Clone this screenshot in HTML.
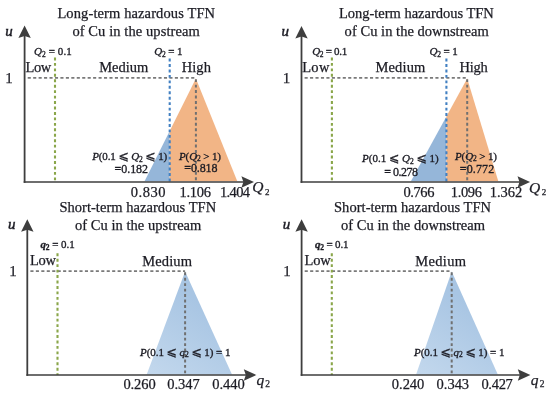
<!DOCTYPE html>
<html><head><meta charset="utf-8"><title>Hazardous TFN of Cu</title>
<style>
html,body{margin:0;padding:0;background:#fff;}
svg{display:block;}
text{font-family:'Liberation Serif', 'Times New Roman', serif;fill:#1c1c24;stroke:#1c1c24;stroke-width:0.25px;}
</style></head>
<body>
<svg width="550" height="396" viewBox="0 0 550 396">
<defs>
<linearGradient id="g3" x1="0" y1="1" x2="0.45" y2="0.2">
<stop offset="0" stop-color="#c3d8ed"/><stop offset="1" stop-color="#a8c5e3"/>
</linearGradient>
<linearGradient id="g4" x1="0" y1="1" x2="0.45" y2="0.2">
<stop offset="0" stop-color="#c3d8ed"/><stop offset="1" stop-color="#a8c5e3"/>
</linearGradient>
</defs>
<rect width="550" height="396" fill="#fff"/>
<polygon points="144.6,181.3 169.7,130.95321637426903 169.7,181.3" fill="#95b6d9"/>
<polygon points="169.7,130.95321637426903 195.9,78.4 237.3,181.3 169.7,181.3" fill="#f2b586"/>
<line x1="27.700000000000003" y1="77.9" x2="195.9" y2="77.9" stroke="#7a7a7a" stroke-width="1.6" stroke-dasharray="3.1 2.35"/>
<line x1="55.0" y1="57.5" x2="55.0" y2="182" stroke="#8aa64a" stroke-width="2.1" stroke-dasharray="2.9 2.55"/>
<line x1="169.7" y1="58.6" x2="169.7" y2="182" stroke="#4280c2" stroke-width="2.1" stroke-dasharray="2.9 2.55"/>
<line x1="195.9" y1="79.2" x2="195.9" y2="182" stroke="#707070" stroke-width="2" stroke-dasharray="2.9 2.55"/>
<line x1="24.6" y1="182.85" x2="24.6" y2="34.6" stroke="#3e3e3e" stroke-width="1.8"/>
<path d="M24.6,25.6 L30.8,38.1 L24.6,36.1 L18.400000000000002,38.1 Z" fill="#3e3e3e"/>
<line x1="23.700000000000003" y1="182" x2="245.0" y2="182" stroke="#3e3e3e" stroke-width="1.6"/>
<path d="M254.0,182 L241.4,176.2 L243.4,182 L241.4,187.8 Z" fill="#3e3e3e"/>
<polygon points="410.9,181.3 446.4,116.4163410301954 446.4,181.3" fill="#95b6d9"/>
<polygon points="446.4,116.4163410301954 467.2,78.4 498.3,181.3 446.4,181.3" fill="#f2b586"/>
<line x1="304.6" y1="77.9" x2="467.2" y2="77.9" stroke="#7a7a7a" stroke-width="1.6" stroke-dasharray="3.1 2.35"/>
<line x1="331.9" y1="57.5" x2="331.9" y2="182" stroke="#8aa64a" stroke-width="2.1" stroke-dasharray="2.9 2.55"/>
<line x1="446.4" y1="58.6" x2="446.4" y2="182" stroke="#4280c2" stroke-width="2.1" stroke-dasharray="2.9 2.55"/>
<line x1="467.2" y1="79.2" x2="467.2" y2="182" stroke="#707070" stroke-width="2" stroke-dasharray="2.9 2.55"/>
<line x1="301.5" y1="182.85" x2="301.5" y2="34.900000000000006" stroke="#3e3e3e" stroke-width="1.8"/>
<path d="M301.5,25.900000000000002 L307.7,38.400000000000006 L301.5,36.400000000000006 L295.3,38.400000000000006 Z" fill="#3e3e3e"/>
<line x1="300.6" y1="182" x2="521.1" y2="182" stroke="#3e3e3e" stroke-width="1.6"/>
<path d="M530.1,182 L517.5,176.2 L519.5,182 L517.5,187.8 Z" fill="#3e3e3e"/>
<polygon points="146.7,374.4 185.1,271.6 232.0,374.4" fill="url(#g3)"/>
<line x1="30.400000000000002" y1="271.1" x2="185.1" y2="271.1" stroke="#7a7a7a" stroke-width="1.6" stroke-dasharray="3.1 2.35"/>
<line x1="57.5" y1="253.3" x2="57.5" y2="375" stroke="#8aa64a" stroke-width="2.1" stroke-dasharray="2.9 2.55"/>
<line x1="185.1" y1="272.3" x2="185.1" y2="375" stroke="#707070" stroke-width="2" stroke-dasharray="2.9 2.55"/>
<line x1="27.3" y1="375.85" x2="27.3" y2="228.2" stroke="#3e3e3e" stroke-width="1.8"/>
<path d="M27.3,219.2 L33.5,231.7 L27.3,229.7 L21.1,231.7 Z" fill="#3e3e3e"/>
<line x1="26.400000000000002" y1="375" x2="247.40000000000003" y2="375" stroke="#3e3e3e" stroke-width="1.6"/>
<path d="M256.40000000000003,375 L243.80000000000004,369.2 L245.80000000000004,375 L243.80000000000004,380.8 Z" fill="#3e3e3e"/>
<polygon points="416.1,374.4 451.7,271.6 497.8,374.4" fill="url(#g4)"/>
<line x1="304.70000000000005" y1="271.1" x2="451.7" y2="271.1" stroke="#7a7a7a" stroke-width="1.6" stroke-dasharray="3.1 2.35"/>
<line x1="331.8" y1="253.3" x2="331.8" y2="375" stroke="#8aa64a" stroke-width="2.1" stroke-dasharray="2.9 2.55"/>
<line x1="451.7" y1="272.3" x2="451.7" y2="375" stroke="#707070" stroke-width="2" stroke-dasharray="2.9 2.55"/>
<line x1="301.6" y1="375.85" x2="301.6" y2="228.29999999999998" stroke="#3e3e3e" stroke-width="1.8"/>
<path d="M301.6,219.29999999999998 L307.8,231.79999999999998 L301.6,229.79999999999998 L295.40000000000003,231.79999999999998 Z" fill="#3e3e3e"/>
<line x1="300.70000000000005" y1="375" x2="521.4" y2="375" stroke="#3e3e3e" stroke-width="1.6"/>
<path d="M530.4,375 L517.8,369.2 L519.8,375 L517.8,380.8 Z" fill="#3e3e3e"/>
<text id="t0" x="57.40" y="18.1" font-size="14.5" textLength="157.67" lengthAdjust="spacing" >Long-term hazardous TFN</text>
<text id="t1" x="72.40" y="35.7" font-size="14.5" textLength="127.36" lengthAdjust="spacing" >of Cu in the upstream</text>
<text id="t2" x="5.20" y="35.6" font-size="15" font-style="italic" style="stroke-width:0.45px">u</text>
<text id="t3" x="5.30" y="82.6" font-size="15" >1</text>
<text id="t4" x="25.60" y="72" font-size="14.5" textLength="25.59" lengthAdjust="spacing" >Low</text>
<text id="t5" x="99.20" y="71.8" font-size="14.5" textLength="49.14" lengthAdjust="spacing" >Medium</text>
<text id="t6" x="181.80" y="71.8" font-size="14.5" textLength="29.10" lengthAdjust="spacing" >High</text>
<text id="t7" x="34.00" y="54.6" font-size="11" textLength="37.73" lengthAdjust="spacing" style="stroke-width:0.32px" ><tspan font-style="italic">Q</tspan><tspan font-size="7.5" dy="2">2</tspan><tspan dy="-2"> <tspan font-weight="bold">=</tspan> 0.1</tspan></text>
<text id="t8" x="154.20" y="54.6" font-size="11" textLength="28.38" lengthAdjust="spacing" style="stroke-width:0.32px" ><tspan font-style="italic">Q</tspan><tspan font-size="7.5" dy="2">2</tspan><tspan dy="-2"> <tspan font-weight="bold">=</tspan> 1</tspan></text>
<text id="t9" x="130.80" y="197.3" font-size="14.5" textLength="34.72" lengthAdjust="spacing" >0.830</text>
<text id="t10" x="179.60" y="197.3" font-size="14.5" textLength="31.42" lengthAdjust="spacing" >1.106</text>
<text id="t11" x="220.00" y="197.3" font-size="14.5" textLength="30.03" lengthAdjust="spacing" >1.404</text>
<text id="t12" x="252.20" y="192.2" font-size="15.5" textLength="17.40" lengthAdjust="spacing" ><tspan font-style="italic">Q</tspan><tspan font-size="9" dy="2.4">2</tspan></text>
<text id="t13" x="92.20" y="159.8" font-size="11" textLength="74.99" lengthAdjust="spacing" style="stroke-width:0.32px" ><tspan font-style="italic">P</tspan>(0.1 <tspan font-family="'DejaVu Sans', sans-serif" font-size="1.12em">&#x2A7D;</tspan> <tspan font-style="italic">Q</tspan><tspan font-size="7.5" dy="1.8">2</tspan><tspan dy="-1.8"> <tspan font-family="'DejaVu Sans', sans-serif" font-size="1.12em">&#x2A7D;</tspan> 1)</tspan></text>
<text id="t14" x="114.60" y="173.3" font-size="12" textLength="33.43" lengthAdjust="spacing" style="stroke-width:0.32px" ><tspan font-weight="bold">=</tspan>0.182</text>
<text id="t15" x="179.00" y="159.6" font-size="11" textLength="41.98" lengthAdjust="spacing" style="stroke-width:0.32px" ><tspan font-style="italic">P</tspan>(<tspan font-style="italic">Q</tspan><tspan font-size="7.5" dy="1.8">2</tspan><tspan dy="-1.8"> &gt; 1)</tspan></text>
<text id="t16" x="184.20" y="172.2" font-size="12" textLength="33.23" lengthAdjust="spacing" style="stroke-width:0.32px" ><tspan font-weight="bold">=</tspan>0.818</text>
<text id="t17" x="339.00" y="18.1" font-size="14.5" textLength="154.77" lengthAdjust="spacing" >Long-term hazardous TFN</text>
<text id="t18" x="344.60" y="35.7" font-size="14.5" textLength="144.18" lengthAdjust="spacing" >of Cu in the downstream</text>
<text id="t19" x="281.50" y="35.6" font-size="15" font-style="italic" style="stroke-width:0.45px">u</text>
<text id="t20" x="282.80" y="82.6" font-size="15" >1</text>
<text id="t21" x="302.20" y="72" font-size="14.5" textLength="27.19" lengthAdjust="spacing" >Low</text>
<text id="t22" x="375.40" y="71.8" font-size="14.5" textLength="49.94" lengthAdjust="spacing" >Medium</text>
<text id="t23" x="459.60" y="71.8" font-size="14.5" textLength="28.20" lengthAdjust="spacing" >High</text>
<text id="t24" x="312.20" y="54.6" font-size="11" textLength="35.03" lengthAdjust="spacing" style="stroke-width:0.32px" ><tspan font-style="italic">Q</tspan><tspan font-size="7.5" dy="2">2</tspan><tspan dy="-2"> <tspan font-weight="bold">=</tspan> 0.1</tspan></text>
<text id="t25" x="429.40" y="54.6" font-size="11" textLength="28.28" lengthAdjust="spacing" style="stroke-width:0.32px" ><tspan font-style="italic">Q</tspan><tspan font-size="7.5" dy="2">2</tspan><tspan dy="-2"> <tspan font-weight="bold">=</tspan> 1</tspan></text>
<text id="t26" x="403.40" y="197.3" font-size="14.5" textLength="31.03" lengthAdjust="spacing" >0.766</text>
<text id="t27" x="450.80" y="197.3" font-size="14.5" textLength="31.12" lengthAdjust="spacing" >1.096</text>
<text id="t28" x="489.80" y="197.3" font-size="14.5" textLength="32.33" lengthAdjust="spacing" >1.362</text>
<text id="t29" x="529.00" y="193.0" font-size="15.5" textLength="17.30" lengthAdjust="spacing" ><tspan font-style="italic">Q</tspan><tspan font-size="9" dy="2.4">2</tspan></text>
<text id="t30" x="362.00" y="161.9" font-size="11" textLength="76.69" lengthAdjust="spacing" style="stroke-width:0.32px" ><tspan font-style="italic">P</tspan>(0.1 <tspan font-family="'DejaVu Sans', sans-serif" font-size="1.12em">&#x2A7D;</tspan> <tspan font-style="italic">Q</tspan><tspan font-size="7.5" dy="1.8">2</tspan><tspan dy="-1.8"> <tspan font-family="'DejaVu Sans', sans-serif" font-size="1.12em">&#x2A7D;</tspan> 1)</tspan></text>
<text id="t31" x="384.20" y="176.0" font-size="12" textLength="33.68" lengthAdjust="spacing" style="stroke-width:0.32px" ><tspan font-weight="bold">=</tspan> 0.278</text>
<text id="t32" x="455.00" y="159.5" font-size="11" textLength="41.98" lengthAdjust="spacing" style="stroke-width:0.32px" ><tspan font-style="italic">P</tspan>(<tspan font-style="italic">Q</tspan><tspan font-size="7.5" dy="1.8">2</tspan><tspan dy="-1.8"> &gt; 1)</tspan></text>
<text id="t33" x="459.80" y="172.5" font-size="12" textLength="34.33" lengthAdjust="spacing" style="stroke-width:0.32px" ><tspan font-weight="bold">=</tspan>0.772</text>
<text id="t34" x="59.40" y="211.8" font-size="14.5" textLength="156.78" lengthAdjust="spacing" >Short-term hazardous TFN</text>
<text id="t35" x="75.00" y="229.6" font-size="14.5" textLength="126.36" lengthAdjust="spacing" >of Cu in the upstream</text>
<text id="t36" x="8.10" y="228.7" font-size="15" font-style="italic" style="stroke-width:0.45px">u</text>
<text id="t37" x="9.15" y="275.8" font-size="15" >1</text>
<text id="t38" x="30.00" y="265.4" font-size="14.5" textLength="26.09" lengthAdjust="spacing" >Low</text>
<text id="t39" x="142.20" y="265.5" font-size="14.5" textLength="49.74" lengthAdjust="spacing" >Medium</text>
<text id="t40" x="40.40" y="248.2" font-size="11" textLength="34.28" lengthAdjust="spacing" style="stroke-width:0.32px" ><tspan font-style="italic" font-weight="bold">q</tspan><tspan font-size="7.5" dy="1.8" font-weight="bold">2</tspan><tspan dy="-1.8"> <tspan font-weight="bold">=</tspan> 0.1</tspan></text>
<text id="t41" x="123.40" y="389.4" font-size="14.5" textLength="32.23" lengthAdjust="spacing" >0.260</text>
<text id="t42" x="167.20" y="389.4" font-size="14.5" textLength="32.62" lengthAdjust="spacing" >0.347</text>
<text id="t43" x="212.20" y="389.4" font-size="14.5" textLength="32.53" lengthAdjust="spacing" >0.440</text>
<text id="t44" x="256.60" y="384.8" font-size="15.5" textLength="13.40" lengthAdjust="spacing" ><tspan font-style="italic">q</tspan><tspan font-size="9.5" dy="2.4">2</tspan></text>
<text id="t45" x="140.00" y="355.5" font-size="11" textLength="90.52" lengthAdjust="spacing" style="stroke-width:0.32px" ><tspan font-style="italic">P</tspan>(0.1 <tspan font-family="'DejaVu Sans', sans-serif" font-size="1.12em">&#x2A7D;</tspan> <tspan font-style="italic">q</tspan><tspan font-size="7.5" dy="1.8">2</tspan><tspan dy="-1.8"> <tspan font-family="'DejaVu Sans', sans-serif" font-size="1.12em">&#x2A7D;</tspan> 1) <tspan font-weight="bold">=</tspan> 1</tspan></text>
<text id="t46" x="334.00" y="211.8" font-size="14.5" textLength="157.08" lengthAdjust="spacing" >Short-term hazardous TFN</text>
<text id="t47" x="341.00" y="229.6" font-size="14.5" textLength="144.07" lengthAdjust="spacing" >of Cu in the downstream</text>
<text id="t48" x="282.80" y="228.7" font-size="15" font-style="italic" style="stroke-width:0.45px">u</text>
<text id="t49" x="283.20" y="275.8" font-size="15" >1</text>
<text id="t50" x="304.60" y="265.4" font-size="14.5" textLength="26.09" lengthAdjust="spacing" >Low</text>
<text id="t51" x="415.20" y="265.5" font-size="14.5" textLength="50.84" lengthAdjust="spacing" >Medium</text>
<text id="t52" x="315.00" y="248.2" font-size="11" textLength="33.48" lengthAdjust="spacing" style="stroke-width:0.32px" ><tspan font-style="italic" font-weight="bold">q</tspan><tspan font-size="7.5" dy="1.8" font-weight="bold">2</tspan><tspan dy="-1.8"> <tspan font-weight="bold">=</tspan> 0.1</tspan></text>
<text id="t53" x="391.80" y="389.4" font-size="14.5" textLength="32.53" lengthAdjust="spacing" >0.240</text>
<text id="t54" x="436.60" y="389.4" font-size="14.5" textLength="32.52" lengthAdjust="spacing" >0.343</text>
<text id="t55" x="481.40" y="389.4" font-size="14.5" textLength="31.43" lengthAdjust="spacing" >0.427</text>
<text id="t56" x="530.80" y="384.8" font-size="15.5" textLength="13.60" lengthAdjust="spacing" ><tspan font-style="italic">q</tspan><tspan font-size="9.5" dy="2.4">2</tspan></text>
<text id="t57" x="414.00" y="355.5" font-size="11" textLength="90.52" lengthAdjust="spacing" style="stroke-width:0.32px" ><tspan font-style="italic">P</tspan>(0.1 <tspan font-family="'DejaVu Sans', sans-serif" font-size="1.12em">&#x2A7D;</tspan> <tspan font-style="italic">q</tspan><tspan font-size="7.5" dy="1.8">2</tspan><tspan dy="-1.8"> <tspan font-family="'DejaVu Sans', sans-serif" font-size="1.12em">&#x2A7D;</tspan> 1) <tspan font-weight="bold">=</tspan> 1</tspan></text>
</svg>
</body></html>
